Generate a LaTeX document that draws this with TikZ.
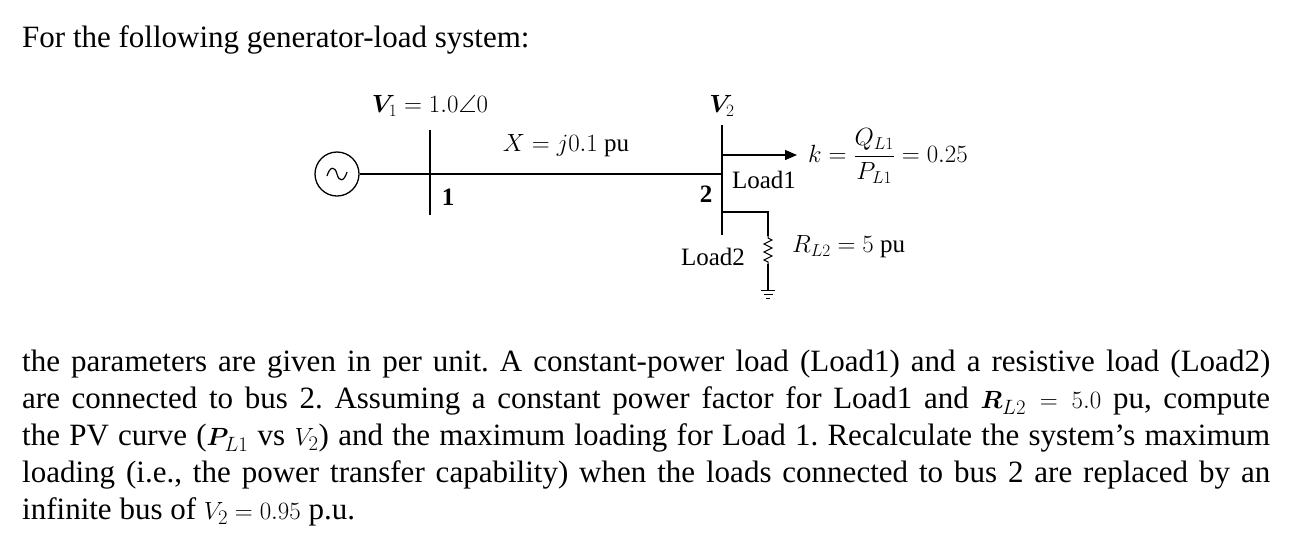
\documentclass[tikz,border=0pt]{standalone}
\usepackage{amsmath,amssymb,bm}
\usepackage{fontspec}
\setmainfont{Liberation Serif}
\usetikzlibrary{arrows.meta}
\begin{document}
\begin{tikzpicture}[x=1pt,y=-1pt,
  wire/.style={line width=1.3pt},
  lbl/.style={inner sep=0pt,font=\fontsize{25}{28}\selectfont},
  para/.style={inner sep=0pt,anchor=north west,font=\fontsize{31}{37}\selectfont}]
\useasboundingbox (0,0) rectangle (1314,542);
\node[para,anchor=west] (head) at (22,40) {For the following generator-load system:};
% generator
\node[draw,circle,line width=1.3pt,minimum size=44pt,inner sep=0pt] (gen) at (337,174) {};
\draw[line width=1.2pt] (327,176) .. controls (330,166) and (335,166) .. (337,174) .. controls (339,182) and (344,182) .. (347,172);
\coordinate (b1t) at (430,130); \coordinate (b1b) at (430,215);
\coordinate (b2t) at (722,125); \coordinate (b2b) at (722,235);
\draw[wire] (b1t) -- (b1b);
\draw[wire] (b2t) -- (b2b);
\coordinate (b2m) at (722,174);
\draw[wire] (gen.east) -- (b2m);
\coordinate (l1s) at (722,155); \coordinate (l1e) at (797,155);
\draw[wire,-{Triangle[length=12pt,width=10pt]}] (l1s) -- (l1e);
% load2
\coordinate (l2s) at (722,212); \coordinate (l2c) at (768,212);
\coordinate (r1) at (768,236); \coordinate (r2) at (768,264); \coordinate (g) at (768,290);
\draw[wire] (l2s) -- (l2c) -- (r1);
\draw[line width=1pt] (r1) -- (768,238) -- (772,240) -- (764,244) -- (772,248) -- (764,252) -- (772,256) -- (764,260) -- (768,262) -- (r2);
\draw[wire] (r2) -- (g);
\draw[line width=1pt] (761,290) -- (775,290) (763.5,294) -- (772.5,294) (766,298) -- (770,298);
% labels
\node[lbl] (v1) at (430,106) {$\bm{V}_1 = 1.0\angle 0$};
\node[lbl] (v2) at (722,106) {$\bm{V}_2$};
\node[lbl] (x) at (566,146) {$X = j0.1$ pu};
\node[lbl] (n1) at (448,197) {\textbf{1}};
\node[lbl] (n2) at (706,194) {\textbf{2}};
\node[lbl] (load1) at (764,180) {Load1};
\node[lbl,anchor=west] (k) at (808,156) {$k = \dfrac{Q_{L1}}{P_{L1}} = 0.25$};
\node[lbl] (load2) at (713,257) {Load2};
\node[lbl,anchor=west] (r) at (792,247) {$R_{L2} = 5$ pu};
% paragraph
\node[para,text width=1248pt,align=justify] (text) at (22,350) {\frenchspacing\hbadness=10000\hfuzz=50pt the parameters are given in per unit. A constant-power load (Load1) and a resistive load (Load2)\linebreak are connected to bus 2. Assuming a constant power factor for Load1 and $\bm{R}_{L2} = 5.0$ pu, compute\linebreak the PV curve ($\bm{P}_{L1}$ vs $V_2$) and the maximum loading for Load 1. Recalculate the system's maximum\linebreak loading (i.e., the power transfer capability) when the loads connected to bus 2 are replaced by an\linebreak infinite bus of $V_2 = 0.95$ p.u.};
\end{tikzpicture}
\end{document}
